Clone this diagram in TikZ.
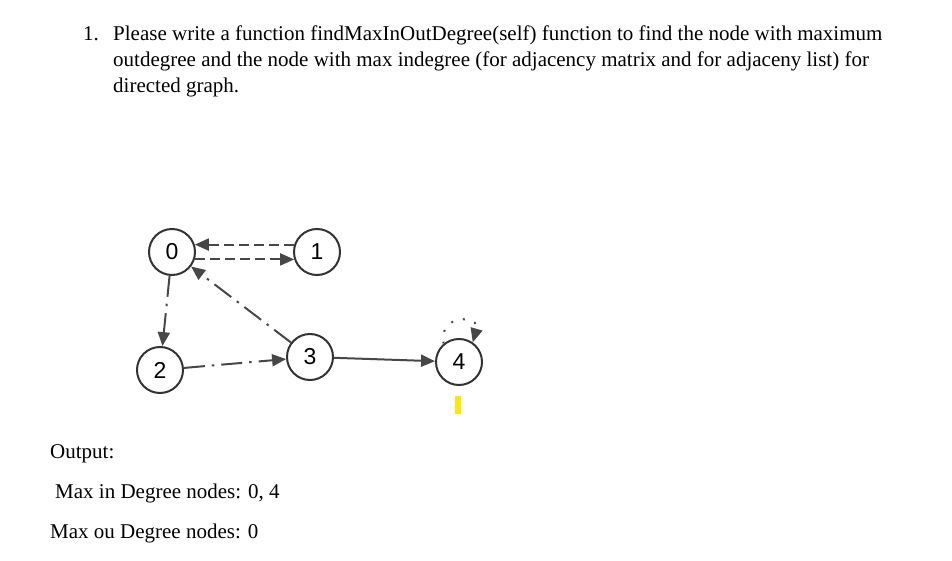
\documentclass[tikz,border=0pt]{standalone}
\usepackage{fontspec}
\setmainfont{Liberation Serif}
\newfontfamily\arialfont{Liberation Sans}
\usetikzlibrary{arrows.meta}

\begin{document}
\begin{tikzpicture}[x=1pt, y=-1pt,
  vertex/.style={circle, draw=black!80, line width=2pt, minimum size=46pt, inner sep=0pt, font=\arialfont\fontsize{23}{23}\selectfont},
  edge/.style={draw=black!72, line width=2pt, -{Triangle[length=14pt,width=12pt]}},
  dashedge/.style={edge, dash pattern=on 10pt off 5pt},
  dotdash/.style={edge, dash pattern=on 21pt off 7pt on 2.5pt off 7pt},
  txt/.style={anchor=base west, inner sep=0pt, font=\fontsize{21}{26}\selectfont}]
\useasboundingbox (0,0) rectangle (952,561);

\node[txt] (num) at (83, 41) {1.};
\node[txt] (l1) at (113, 41) {Please write a function findMaxInOutDegree(self) function to find the node with maximum};
\node[txt] (l2) at (113, 67) {outdegree and the node with max indegree (for adjacency matrix and for adjaceny list) for};
\node[txt] (l3) at (113, 93) {directed graph.};

\node[vertex] (n0) at (172, 252) {0};
\node[vertex] (n1) at (317, 252) {1};
\node[vertex] (n2) at (160, 370) {2};
\node[vertex] (n3) at (310, 357) {3};
\node[vertex] (n4) at (459, 362) {4};

\draw[dashedge] (n1.162) -- (n0.18);
\draw[dashedge] (n0.-18) -- (n1.198);
\draw[dotdash] (n0) -- (n2);
\draw[dotdash] (n3) -- (n0);
\draw[dotdash] (n2) -- (n3);
\draw[edge] (n3) -- (n4);
\draw[edge, dash pattern=on 2pt off 10pt] (n4.130) .. controls +(-6,-30) and +(8,-28) .. (n4.55);

\fill[yellow!90!orange] (455, 396) rectangle (461, 414);

\node[txt] (out) at (50, 458) {Output:};
\node[txt] (indeg) at (55, 498) {Max in Degree nodes: 0, 4};
\node[txt] (outdeg) at (50, 538) {Max ou Degree nodes: 0};
\end{tikzpicture}
\end{document}
